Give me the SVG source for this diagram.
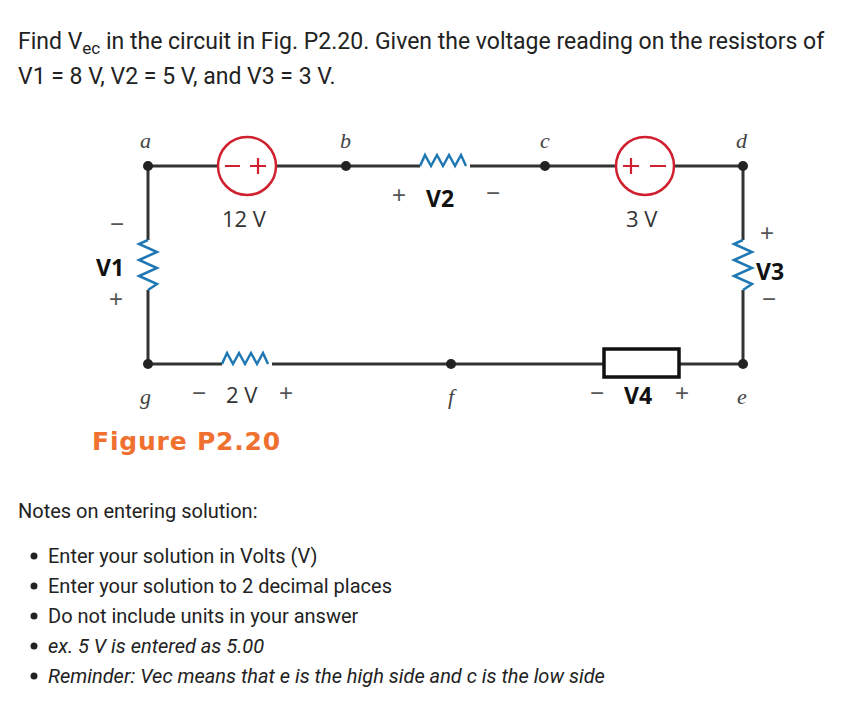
<svg xmlns="http://www.w3.org/2000/svg" width="848" height="703" viewBox="0 0 848 703">
<style>
.t{font-family:Roboto,"Liberation Sans",sans-serif;font-size:20px;fill:#222}
.h{font-size:23px}
.w{stroke:#333;stroke-width:3;fill:none}
.r{stroke:#1f78b4;stroke-width:2.5;fill:none;stroke-linejoin:miter}
.n{font-family:"Liberation Serif",serif;font-style:italic;font-size:22px;fill:#444}
.s{font-family:"Open Sans","Liberation Sans",sans-serif;font-size:22px;fill:#333}
.p{font-family:"Liberation Sans",sans-serif;font-size:24px;fill:#555}
.b{font-family:"Open Sans","Liberation Sans",sans-serif;font-weight:bold;font-size:23px;fill:#111}
.src{stroke:#d0202f;stroke-width:2.5;fill:#fff}
.sp{stroke:#d0202f;stroke-width:2.2;fill:none}
.i{font-style:italic}
</style>
<rect width="848" height="703" fill="#fff"/>
<text class="t h" x="18" y="49">Find V<tspan font-size="17" dy="5">ec</tspan><tspan dy="-5"> in the circuit in Fig. P2.20. Given the voltage reading on the resistors of</tspan></text>
<text class="t h" x="18" y="84">V1 = 8 V, V2 = 5 V, and V3 = 3 V.</text>
<g id="connectors">
<path class="w" d="M148 166H217M277 166H420M470 166H615M675 166H743V240M743 290V364H679M603 364H272M222 364H148V290M148 240V166"/>
</g>
<g id="V1"><path class="r" d="M148 240l-9 4l18 8l-18 8l18 8l-18 8l18 8l-9 6"/>
<text class="b" x="96" y="276">V1</text><text class="p" x="110" y="232">−</text><text class="p" x="109" y="307">+</text></g>
<g id="src12"><circle class="src" cx="247" cy="166" r="29"/><path class="sp" d="M225 166h15M250 166h16M258 158v16"/><text class="s" x="222" y="227">12 V</text></g>
<g id="V2"><path class="r" d="M420 166l5 -11l6 11l6 -11l6 11l6 -11l6 11l6 -11l5 11"/>
<text class="p" x="392" y="203">+</text><text class="b" x="426" y="207">V2</text><text class="p" x="486" y="201">−</text></g>
<g id="src3"><circle class="src" cx="645" cy="166" r="29"/><path class="sp" d="M623 166h16M631 158v16M650 166h16"/><text class="s" x="626" y="227">3 V</text></g>
<g id="V3"><path class="r" d="M743 240l-9 4l18 8l-18 8l18 8l-18 8l18 8l-9 6"/>
<text class="b" x="756" y="280">V3</text><text class="p" x="760" y="241">+</text><text class="p" x="762" y="307">−</text></g>
<g id="V4"><rect x="604" y="349" width="75" height="28" fill="#fff" stroke="#111" stroke-width="3.5"/>
<text class="p" x="590" y="401">−</text><text class="b" x="624" y="404">V4</text><text class="p" x="675" y="401">+</text></g>
<g id="R2"><path class="r" d="M222 364l5 -11l6 11l6 -11l6 11l6 -11l6 11l6 -11l5 11"/>
<text class="p" x="192" y="401">−</text><text class="s" x="226" y="403">2 V</text><text class="p" x="279" y="401">+</text></g>
<g id="nodes" fill="#222">
<circle cx="148" cy="166" r="5"/><circle cx="346" cy="166" r="5"/><circle cx="545" cy="166" r="5"/><circle cx="743" cy="166" r="5"/>
<circle cx="148" cy="364" r="5"/><circle cx="451" cy="364" r="5"/><circle cx="743" cy="364" r="5"/>
</g>
<text class="n" x="140" y="148">a</text><text class="n" x="340" y="148">b</text><text class="n" x="540" y="148">c</text><text class="n" x="736" y="148">d</text>
<text class="n" x="140" y="404">g</text><text class="n" x="448" y="404">f</text><text class="n" x="737" y="404">e</text>
<text x="92" y="450" font-family="'DejaVu Sans',sans-serif" font-weight="bold" font-size="25" letter-spacing="0.8" fill="#f07030">Figure P2.20</text>
<text class="t" x="18" y="518">Notes on entering solution:</text>
<circle cx="34" cy="556" r="3.5" fill="#222"/><text class="t" x="48" y="563">Enter your solution in Volts (V)</text>
<circle cx="34" cy="586" r="3.5" fill="#222"/><text class="t" x="48" y="593">Enter your solution to 2 decimal places</text>
<circle cx="34" cy="616" r="3.5" fill="#222"/><text class="t" x="48" y="623">Do not include units in your answer</text>
<circle cx="34" cy="646" r="3.5" fill="#222"/><text class="t i" x="48" y="653">ex. 5 V is entered as 5.00</text>
<circle cx="34" cy="676" r="3.5" fill="#222"/><text class="t i" x="48" y="683">Reminder: Vec means that e is the high side and c is the low side</text>
</svg>
